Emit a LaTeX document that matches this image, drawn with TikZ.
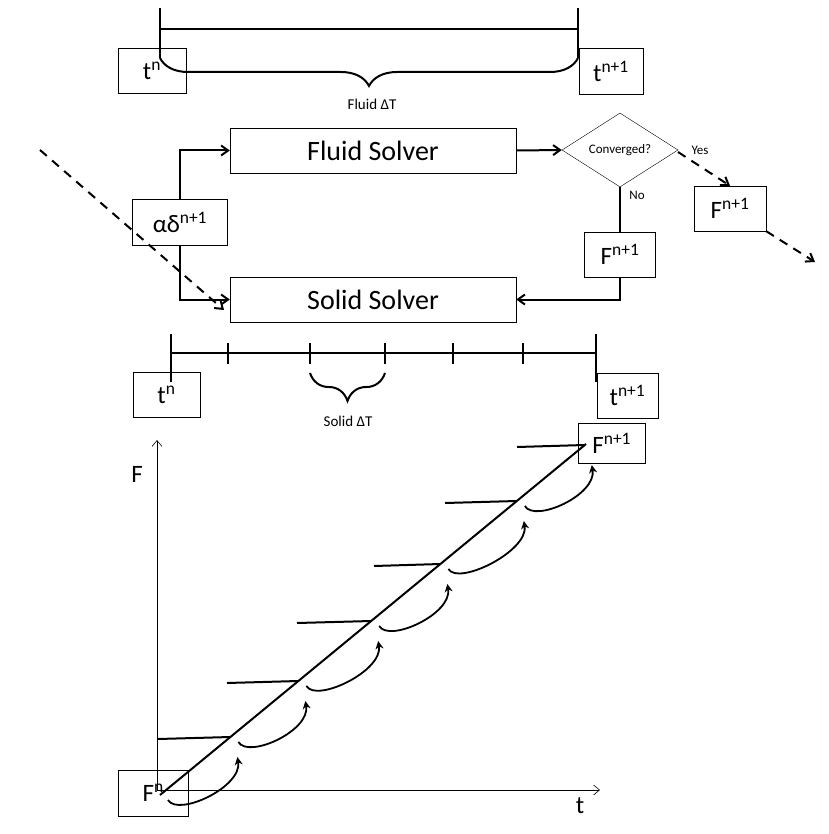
\documentclass[tikz,border=0pt]{standalone}
\usepackage{fontspec}
\setmainfont{Carlito}
\usetikzlibrary{shapes.geometric,decorations.pathreplacing,calc,arrows.meta}
\begin{document}
\begin{tikzpicture}[x=1pt,y=-1pt,
  box/.style={draw,thin,inner sep=0pt},
  thk/.style={line width=2pt},
  arr/.style={line width=2pt,-{Straight Barb[length=7pt,width=10pt]}},
  dsh/.style={line width=2pt,dash pattern=on 9pt off 7pt,-{Straight Barb[length=7pt,width=10pt]}},
  lbl/.style={font=\fontsize{25}{27}\selectfont},
  big/.style={font=\fontsize{28}{30}\selectfont},
  sml/.style={font=\fontsize{13}{15}\selectfont}]
\useasboundingbox (0,0) rectangle (828,834);
% top timeline
\draw[thk] (160,29) coordinate (a1) -- (578,29) coordinate (a2);
\draw[thk] (160,8) -- (160,58);
\draw[thk] (578,8) -- (578,58);
\node[box,minimum width=68pt,minimum height=45pt,lbl] (tn1) at (152,70.5) {t\textsuperscript{n}\hspace{18pt}};
\node[box,minimum width=64pt,minimum height=46pt,lbl] (tn2) at (611,71) {t\textsuperscript{n+1}};
\draw[thk,decorate,decoration={brace,mirror,amplitude=28pt}] (160,58) -- (578,58);
\node[font=\fontsize{15}{17}\selectfont] (fdt) at (372,104) {Fluid ΔT};
% solvers
\node[box,minimum width=286pt,minimum height=45pt,big] (fs) at (373,150.5) {Fluid Solver};
\node[box,minimum width=286pt,minimum height=45pt,big] (ss) at (373,299.5) {Solid Solver};
\node[draw,thin,diamond,aspect=1.5,minimum width=116pt,minimum height=74pt,inner sep=0pt,sml] (cv) at (620,150) {Converged?};
\node[sml] (yes) at (700,150) {Yes};
\node[sml] (no) at (637,195) {No};
\node[box,minimum width=72pt,minimum height=45pt,lbl] (fo) at (730,208.5) {F\textsuperscript{n+1}};
\node[box,minimum width=71pt,minimum height=45pt,lbl] (fi) at (620,254.5) {F\textsuperscript{n+1}};
\node[box,minimum width=95pt,minimum height=46pt,lbl] (ad) at (180,222) {αδ\textsuperscript{n+1}};
\draw[arr] (fs.east) -- (cv.west);
\draw[thk] (cv.south) -- (fi.north);
\draw[arr] (fi.south) |- (ss.east);
\draw[arr] (ad.north) |- (fs.west);
\draw[arr] (ad.south) |- (ss.west);
\draw[dsh] (678,152) -- (fo.north);
\coordinate (e1) at (815,262);
\coordinate (s1) at (40,150);
\coordinate (e2) at (224,310);
\draw[dsh] (fo.south east) -- (e1);
\draw[dsh] (s1) -- (e2);
% lower timeline
\draw[thk] (171,353) -- (596,353);
\draw[thk] (171,334) -- (171,382);
\draw[thk] (596,334) -- (596,382);
\foreach \x in {228,310,385,453,523} \draw[thk] (\x,343) -- (\x,364);
\node[box,minimum width=67pt,minimum height=45pt,lbl] (tn3) at (166.5,394.5) {t\textsuperscript{n}\hspace{18pt}};
\node[box,minimum width=61pt,minimum height=45pt,lbl] (tn4) at (627.5,395.5) {t\textsuperscript{n+1}};
\draw[thk,decorate,decoration={brace,mirror,amplitude=28pt}] (310,373) -- (385,373);
\node[font=\fontsize{15}{17}\selectfont] (sdt) at (348,421) {Solid ΔT};
% graph
\node[box,minimum width=67pt,minimum height=40pt,lbl,anchor=north west] (fn1) at (578,423) {F\textsuperscript{n+1}};
\node[box,minimum width=70pt,minimum height=46pt,lbl,anchor=north west] (fn0) at (118,770) {F\textsuperscript{n}\hspace{30pt}};
\coordinate (o) at (157,790);
\coordinate (yt) at (157,440);
\coordinate (xt) at (600,790);
\draw[semithick,-{Straight Barb[length=6pt,width=10pt]}] (o) -- (yt);
\draw[semithick,-{Straight Barb[length=6pt,width=10pt]}] (o) -- (xt);
\node[lbl] (fl) at (137,474) {F};
\node[lbl] (tl) at (580,806) {t};
\coordinate (d0) at (160,795);
\coordinate (d6) at (586,444);
\draw[thk] (d0) -- (d6);
\foreach \y/\xl in {737/158,681/227,621/297,564/374,501/445,445/517}{
  \pgfmathsetmacro\xx{160+(795-\y)*1.2137}
  \draw[thk] (\xl,\y+2) -- (\xx,\y);
}
\foreach \ya/\yb in {795/737,737/681,681/621,621/564,564/501,501/445}{
  \pgfmathsetmacro\xa{160+(795-\ya)*1.2137}
  \pgfmathsetmacro\xb{160+(795-\yb)*1.2137}
  \draw[line width=1.8pt,-{Stealth[length=8pt,width=8pt]}] (\xa+8,\ya+5) .. controls (\xa+18,\ya+22) and (\xb+12,\yb+50) .. (\xb+7,\yb+20);
}
\end{tikzpicture}
\end{document}
